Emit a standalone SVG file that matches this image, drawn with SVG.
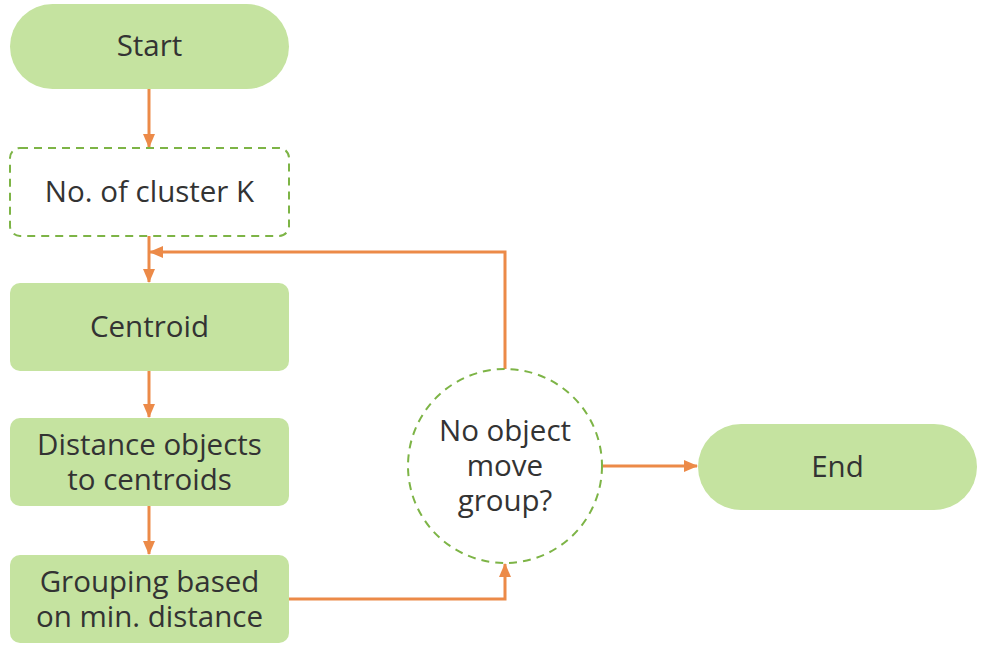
<svg xmlns="http://www.w3.org/2000/svg" width="987" height="656" viewBox="0 0 987 656">
<style>
.n{fill:#C5E3A0}
.d{fill:#fff;stroke:#7DB446;stroke-width:2;stroke-dasharray:8 6}
.t{font-family:"Open Sans","Noto Sans",sans-serif;font-size:29.5px;fill:#333;text-anchor:middle}
.c{fill:none;stroke:#EC8A48;stroke-width:3}
</style>
<defs><marker id="a" markerWidth="14" markerHeight="14" refX="13" refY="7" orient="auto" markerUnits="userSpaceOnUse"><path d="M0,1L14,7L0,13z" fill="#EC8A48"/></marker></defs>
<rect width="987" height="656" fill="#fff"/>
<g id="connectors">
<path class="c" d="M149,89V147" marker-end="url(#a)"/>
<path class="c" d="M149,236V282" marker-end="url(#a)"/>
<path class="c" d="M505,369V252H150" marker-end="url(#a)"/>
<path class="c" d="M149,371V417" marker-end="url(#a)"/>
<path class="c" d="M149,506V554" marker-end="url(#a)"/>
<path class="c" d="M289,599H505V564" marker-end="url(#a)"/>
<path class="c" d="M602,466H697" marker-end="url(#a)"/>
</g>
<g id="start"><rect class="n" x="10" y="4" width="279" height="85" rx="42.5"/><text class="t" x="149.5" y="56">Start</text></g>
<g id="k"><rect class="d" x="10" y="148" width="279" height="88" rx="10"/><text class="t" x="149.5" y="202">No. of cluster K</text></g>
<g id="centroid"><rect class="n" x="10" y="283" width="279" height="88" rx="10"/><text class="t" x="149.5" y="337">Centroid</text></g>
<g id="distance"><rect class="n" x="10" y="418" width="279" height="88" rx="10"/><text class="t" x="149.5" y="455">Distance objects</text><text class="t" x="149.5" y="490">to centroids</text></g>
<g id="grouping"><rect class="n" x="10" y="555" width="279" height="88" rx="10"/><text class="t" x="149.5" y="592">Grouping based</text><text class="t" x="149.5" y="627">on min. distance</text></g>
<g id="decision"><circle class="d" cx="505" cy="466" r="97"/><text class="t" x="505" y="441">No object</text><text class="t" x="505" y="476">move</text><text class="t" x="505" y="511">group?</text></g>
<g id="end"><rect class="n" x="698" y="424" width="279" height="86" rx="43"/><text class="t" x="837.5" y="477">End</text></g>
</svg>
